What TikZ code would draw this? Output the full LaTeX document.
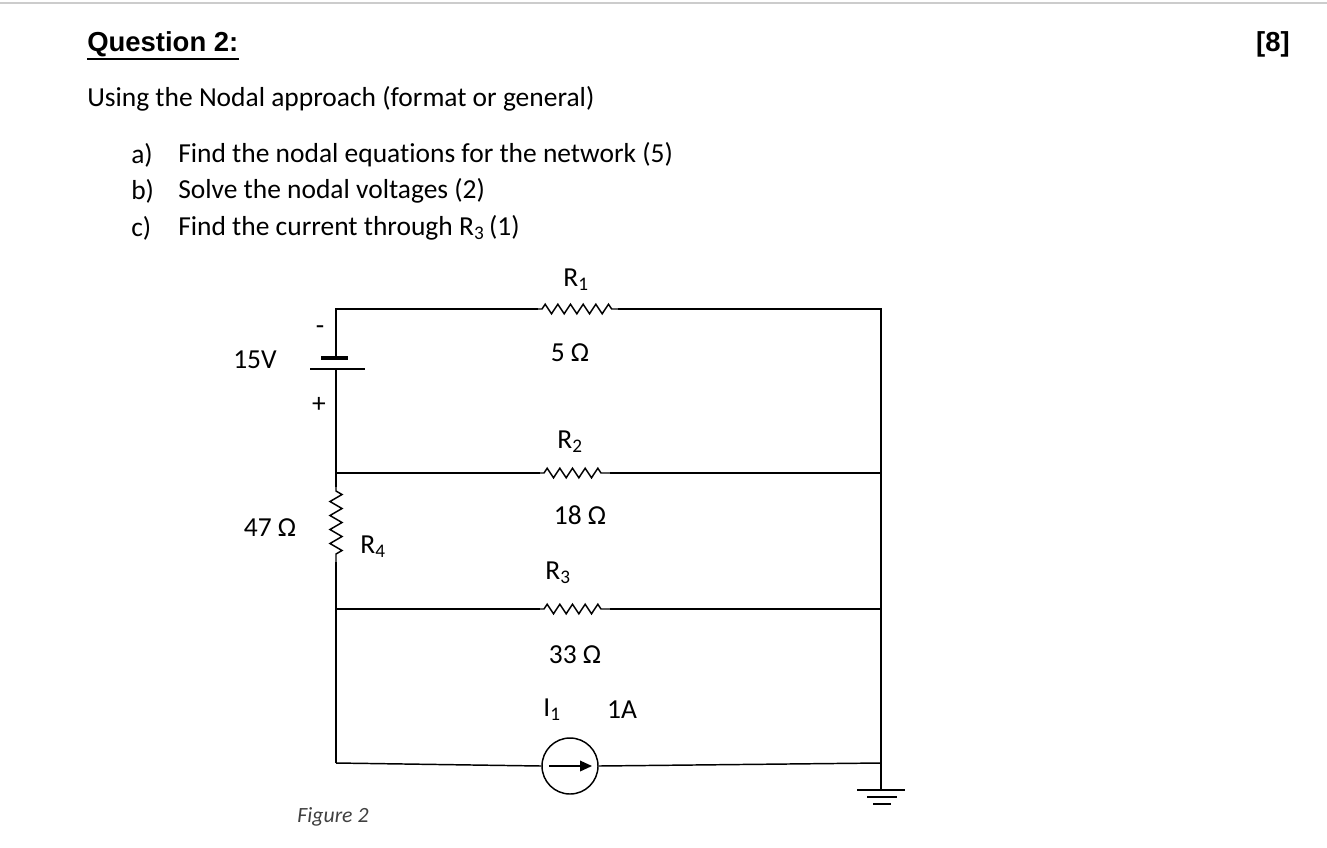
\documentclass[tikz,border=0pt]{standalone}
\usepackage{fontspec}
\setmainfont[Ligatures={NoCommon}]{Carlito}
\newfontfamily\arial{Liberation Sans}
\usetikzlibrary{decorations.pathmorphing,arrows.meta}
\begin{document}
\begin{tikzpicture}[x=0.75pt,y=-0.75pt,
  wire/.style={line width=1.1pt},
  res/.style={line width=1.1pt,decorate,decoration={zigzag,segment length=9.5pt,amplitude=3.6pt,pre length=3pt,post length=3pt}},
  txt/.style={font=\fontsize{20.6}{24}\selectfont,inner sep=0pt},
  lab/.style={font=\fontsize{20.6}{24}\selectfont,inner sep=0pt}]
\useasboundingbox (0,0) rectangle (1327,847);
\draw[gray!40,line width=0.8pt] (0,3) -- (1327,3);
\node[anchor=west,inner sep=0pt,font=\arial\bfseries\fontsize{20.6}{24}\selectfont] (q) at (87,44) {Question 2:};
\draw[line width=1.2pt] ([yshift=-1.5pt]q.south west) -- ([yshift=-1.5pt]q.south east);
\node[anchor=east,inner sep=0pt,font=\arial\bfseries\fontsize{20.6}{24}\selectfont] (m) at (1290,44) {[8]};
\node[txt,anchor=west] (u) at (87,99) {Using the Nodal approach (format or general)};
\node[txt,anchor=west] (la) at (131,155) {a)};
\node[txt,anchor=west] (ta) at (178,155) {Find the nodal equations for the network (5)};
\node[txt,anchor=west] (lb) at (131,191) {b)};
\node[txt,anchor=west] (tb) at (178,191) {Solve the nodal voltages (2)};
\node[txt,anchor=west] (lc) at (131,228) {c)};
\node[txt,anchor=west] (tc) at (178,228) {Find the current through R\textsubscript{3}\,(1)};
% coordinates
\coordinate (tl) at (336,309); \coordinate (tr) at (881,309);
\coordinate (bn) at (336,358); \coordinate (bp) at (336,369);
\coordinate (ml) at (336,473); \coordinate (mr) at (881,473);
\coordinate (r4a) at (336,487); \coordinate (r4b) at (336,562);
\coordinate (ll) at (336,609); \coordinate (lr) at (881,609);
\coordinate (bl) at (336,763); \coordinate (br) at (881,763);
\coordinate (g) at (881,790);
\coordinate (r1a) at (538,309); \coordinate (r1b) at (618,309);
\coordinate (r2a) at (540,473); \coordinate (r2b) at (610,473);
\coordinate (r3a) at (540,609); \coordinate (r3b) at (610,609);
% wires
\draw[wire] (bn) -- (tl) -- (r1a); \draw[res] (r1a) -- (r1b); \draw[wire] (r1b) -- (tr) -- (g);
\draw[line width=3pt] (321,358) -- (348,358);
\draw[wire] (310,369) -- (365,369);
\draw[wire] (bp) -- (ml) -- (r4a);
\draw[res,decoration={zigzag,segment length=10.5pt,amplitude=4.5pt}] (r4a) -- (r4b);
\draw[wire] (r4b) -- (ll) -- (bl);
\draw[wire] (ml) -- (r2a); \draw[res] (r2a) -- (r2b); \draw[wire] (r2b) -- (mr);
\draw[wire] (ll) -- (r3a); \draw[res] (r3a) -- (r3b); \draw[wire] (r3b) -- (lr);
\node[draw,circle,line width=1.1pt,minimum size=42pt,inner sep=0pt] (cs) at (570,766) {};
\draw[wire] (bl) -- (cs.west); \draw[wire] (cs.east) -- (br);
\draw[line width=1.1pt,-{Triangle[length=9pt,width=8pt]}] (549,766) -- (592,766);
\draw[wire] (857,790) -- (905,790);
\draw[wire] (867,797) -- (897,797);
\draw[wire] (873,804) -- (891,804);
% labels
\node[lab] (l15) at (255,360) {15V};
\node[lab] (lm) at (320,330) {-};
\node[lab] (lp) at (319,405) {+};
\node[lab] (lr1) at (576,280) {R\textsubscript{1}};
\node[lab] (v1) at (570,353) {5 Ω};
\node[lab] (lr2) at (570,442) {R\textsubscript{2}};
\node[lab] (v2) at (580,515) {18 Ω};
\node[lab] (v4) at (270,528) {47 Ω};
\node[lab] (lr4) at (373,547) {R\textsubscript{4}};
\node[lab] (lr3) at (558,573) {R\textsubscript{3}};
\node[lab] (v3) at (575,655) {33 Ω};
\node[lab] (li) at (552,710) {I\textsubscript{1}};
\node[lab] (la1) at (622,710) {1A};
\node[lab,font=\itshape\fontsize{16.3}{18}\selectfont,text=black!75] (fig) at (333,817) {Figure 2};
\end{tikzpicture}
\end{document}
